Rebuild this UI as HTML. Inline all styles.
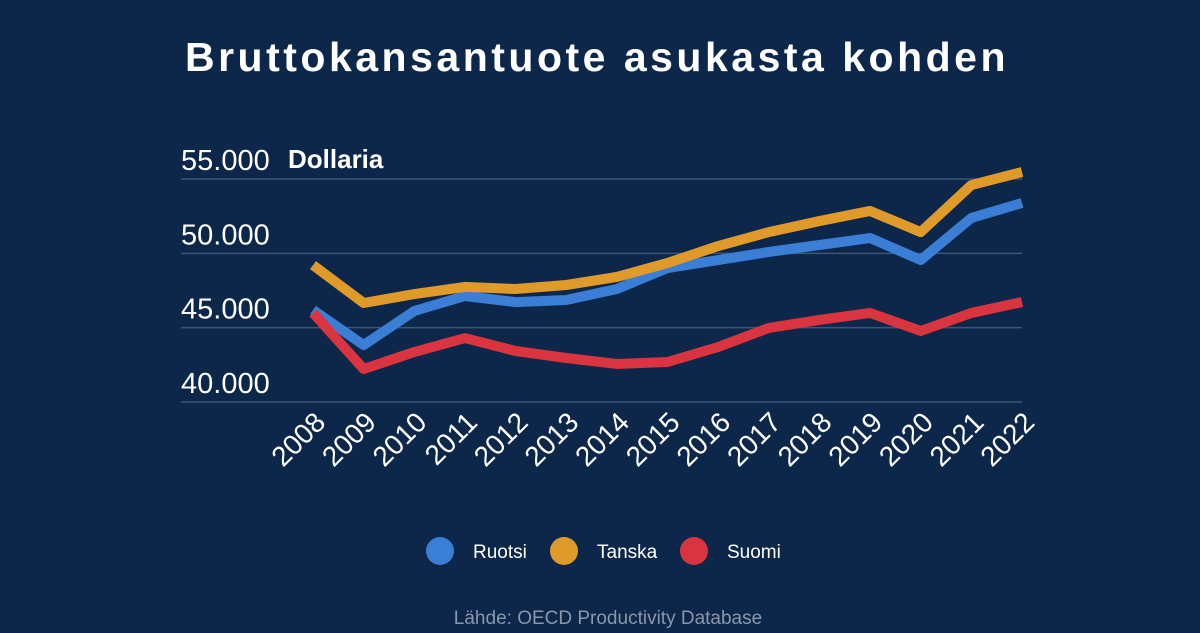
<!DOCTYPE html>
<html><head><meta charset="utf-8">
<style>
html,body{margin:0;padding:0;background:#0c2749;}
body{width:1200px;height:628px;overflow:hidden;font-family:"Liberation Sans",sans-serif;}
</style></head>
<body>
<svg width="1200" height="628" xmlns="http://www.w3.org/2000/svg">
<rect width="1200" height="628" fill="#0c2749"/>
<text x="597" y="71" text-anchor="middle" fill="#fff" font-size="41" font-weight="bold" letter-spacing="3.5">Bruttokansantuote asukasta kohden</text>
<text x="288" y="168" fill="#fff" font-size="26" font-weight="bold">Dollaria</text>
<g id="grid"></g>
<g id="lines"></g>
<g id="xlabels"></g>
<g>
 <circle cx="440" cy="551" r="14" fill="#3a7fd5"/>
 <text x="473" y="558" fill="#fff" font-size="19">Ruotsi</text>
 <circle cx="564" cy="551" r="14" fill="#e09a2a"/>
 <text x="597" y="558" fill="#fff" font-size="19">Tanska</text>
 <circle cx="694" cy="551" r="14" fill="#d9343f"/>
 <text x="727" y="558" fill="#fff" font-size="19">Suomi</text>
</g>
<text x="608" y="624" text-anchor="middle" fill="#8a97aa" font-size="19">Lähde: OECD Productivity Database</text>
</svg>
<script>
const years=[2008,2009,2010,2011,2012,2013,2014,2015,2016,2017,2018,2019,2020,2021,2022];
const yTicks=[40000,45000,50000,55000];
const yTickLabels=["40.000","45.000","50.000","55.000"];
const ruotsi=[46190,43830,46120,47130,46720,46860,47600,49010,49550,50090,50560,51030,49550,52380,53390];
const tanska=[49210,46660,47260,47740,47600,47870,48410,49350,50490,51430,52170,52850,51430,54590,55470];
const suomi=[45990,42220,43360,44300,43430,42960,42560,42690,43700,44980,45520,45990,44780,45990,46720];
const NS="http://www.w3.org/2000/svg";
function x(i){return 313+i*(1022-313)/(years.length-1);}
function y(v){return 402-(v-40000)*(402-179)/15000;}
const grid=document.getElementById('grid');
yTicks.forEach((t,i)=>{
 const l=document.createElementNS(NS,'line');
 l.setAttribute('x1',181);l.setAttribute('x2',1022);l.setAttribute('y1',y(t));l.setAttribute('y2',y(t));
 l.setAttribute('stroke','#3c5676');l.setAttribute('stroke-width','1.5');
 
 
 grid.appendChild(l);
 const tx=document.createElementNS(NS,'text');
 tx.setAttribute('x',181);tx.setAttribute('y',y(t)-9);tx.setAttribute('fill','#fff');tx.setAttribute('font-size','29');
 tx.textContent=yTickLabels[i];
 
 
 grid.appendChild(tx);
});
const lines=document.getElementById('lines');
[[ruotsi,'#3a7fd5','ruotsi'],[tanska,'#e09a2a','tanska'],[suomi,'#d9343f','suomi']].forEach(([d,c,n])=>{
 const p=document.createElementNS(NS,'polyline');
 p.setAttribute('points',d.map((v,i)=>x(i)+','+y(v)).join(' '));
 p.setAttribute('fill','none');p.setAttribute('stroke',c);p.setAttribute('stroke-width','10');
 p.setAttribute('stroke-linejoin','round');
 
 
 lines.appendChild(p);
});
const xl=document.getElementById('xlabels');
years.forEach((yr,i)=>{
 const t=document.createElementNS(NS,'text');
 const px=x(i)+14, py=424;
 t.setAttribute('x',px);t.setAttribute('y',py);t.setAttribute('text-anchor','end');
 t.setAttribute('fill','#fff');t.setAttribute('font-size','28');
 t.setAttribute('transform','rotate(-45 '+px+' '+py+')');
 t.textContent=yr;
 
 
 xl.appendChild(t);
});
</script>
</body></html>
